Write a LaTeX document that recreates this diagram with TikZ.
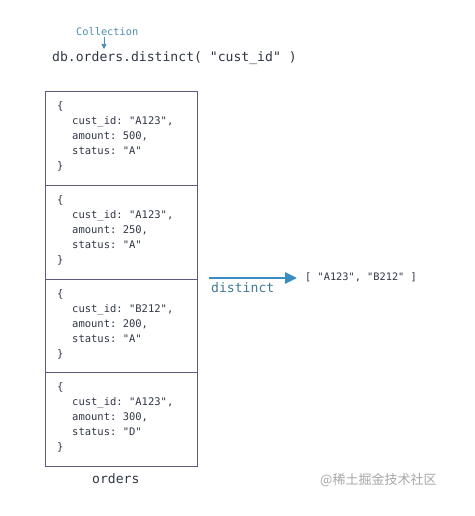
\documentclass[tikz,border=0pt]{standalone}
\usepackage{fontspec}
\setmonofont{DejaVu Sans Mono}
\newfontfamily\cjk{Noto Sans CJK SC}
\usetikzlibrary{arrows.meta}
\definecolor{txt}{HTML}{2F3646}
\definecolor{frame}{HTML}{5C5C7C}
\definecolor{arrowblue}{HTML}{3B8CC2}
\definecolor{lbl}{HTML}{3F7A96}
\definecolor{coll}{HTML}{4A8DB0}
\newcommand{\ind}{\hspace*{15pt}}
\begin{document}
\begin{tikzpicture}[x=1pt,y=-1pt,
  doc/.style={anchor=north west,align=left,font=\ttfamily\fontsize{10.5}{15}\selectfont,text=txt,inner sep=0pt},
  cell/.style={draw=frame,line width=0.9pt,minimum width=152pt,minimum height=93.75pt,anchor=north west,inner sep=0pt},
  big/.style={font=\ttfamily\fontsize{13.1}{15}\selectfont,text=txt,inner sep=0pt}
]
\useasboundingbox (0,0) rectangle (474,516);
\node[cell] (c1) at (45,91) {};
\node[cell] (c2) at (45,184.75) {};
\node[cell] (c3) at (45,278.5) {};
\node[cell] (c4) at (45,372.25) {};
\node[doc] (t1) at (57,101.5) {\{\\\ind cust\_id: "A123",\\\ind amount: 500,\\\ind status: "A"\\\}};
\node[doc] (t2) at (57,195.25) {\{\\\ind cust\_id: "A123",\\\ind amount: 250,\\\ind status: "A"\\\}};
\node[doc] (t3) at (57,289) {\{\\\ind cust\_id: "B212",\\\ind amount: 200,\\\ind status: "A"\\\}};
\node[doc] (t4) at (57,382.75) {\{\\\ind cust\_id: "A123",\\\ind amount: 300,\\\ind status: "D"\\\}};
\node[big,anchor=west] (cmd) at (52,58) {db.orders.distinct( "cust\_id" )};
\node[font=\ttfamily\fontsize{10.3}{12}\selectfont,text=coll,inner sep=0pt,anchor=west] (col) at (76,32) {Collection};
\coordinate (ctip) at (104,49);
\draw[coll,line width=0.7pt,-{Triangle[length=5pt,width=5pt]}] (104,37) -- (ctip);
\node[big,anchor=west] (ord) at (92,479) {orders};
\coordinate (as) at (209,278);
\node[font=\ttfamily\fontsize{10.3}{12}\selectfont,text=txt,inner sep=0pt,anchor=west] (res) at (305,277) {[ "A123", "B212" ]};
\draw[arrowblue,line width=2.8pt,-{Triangle[length=12pt,width=11pt]}] (as) -- (297,278);
\node[big,text=lbl,anchor=west] (dl) at (211,288) {distinct};
\node[font=\cjk\fontsize{13}{14}\selectfont,text=black!35,inner sep=0pt,anchor=west] (wm) at (320,480) {@稀土掘金技术社区};
\end{tikzpicture}
\end{document}
